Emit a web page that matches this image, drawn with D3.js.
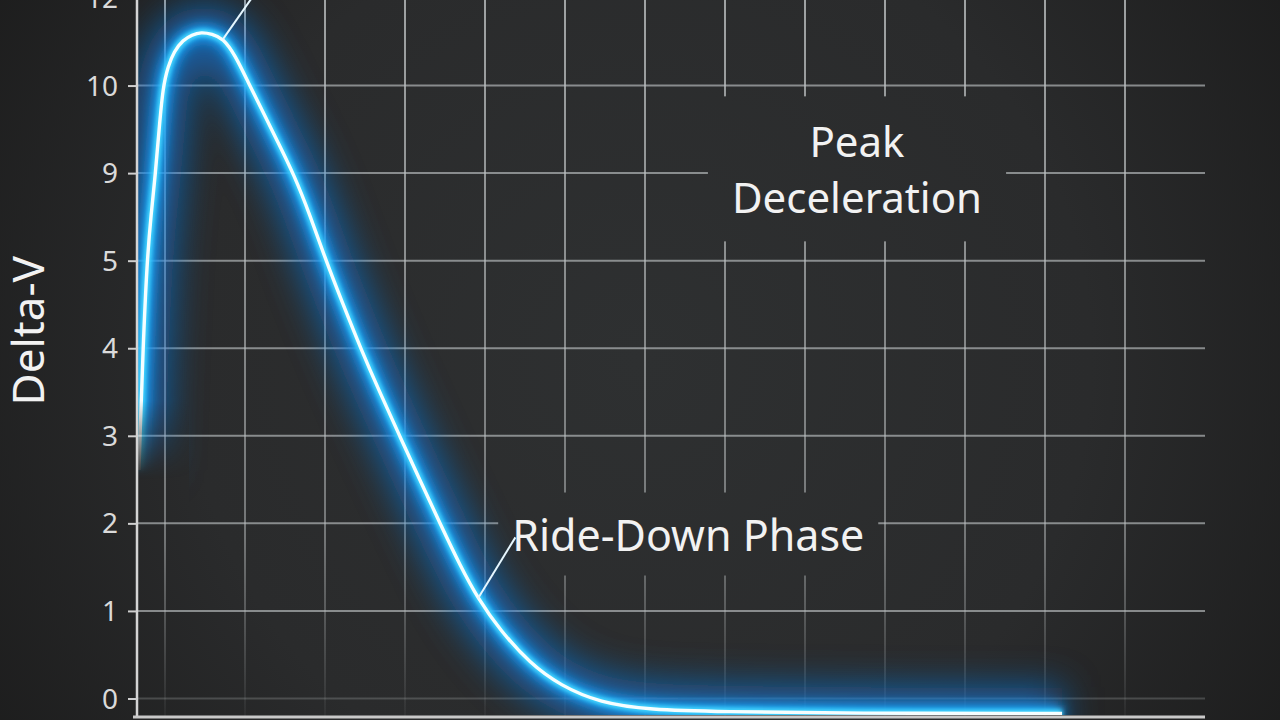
<!DOCTYPE html>
<html>
<head>
<meta charset="utf-8">
<script src="https://cdn.jsdelivr.net/npm/d3@7"></script>
<style>
	body { margin: 0; background: #1d1e1f; }
	svg { display: block; }
	text { font-family: "Noto Sans", Roboto, sans-serif; }
</style>
</head>
<body>
<div id="chart"><svg></svg></div>
<script>
// y ticks are evenly spaced on the picture, so values are kept in tick-slot units
var yTickLabels = ["0", "1", "2", "3", "4", "5", "9", "10", "12"];
var xGridTicks = [0, 1, 2, 3, 4, 5, 6, 7, 8, 9, 10, 11, 12];

var curveX = [-0.325, -0.3125, -0.275, -0.225, -0.175, -0.119, -0.075, -0.025, 0.038, 0.113, 0.225, 0.338, 0.45, 0.588, 0.725, 0.875, 1.038, 1.213, 1.413, 1.613, 1.813, 2.0, 2.213, 2.45, 2.688, 2.938, 3.188, 3.438, 3.688, 3.913, 4.188, 4.563, 4.938, 5.438, 6.063, 6.938, 8.563, 11.213];
var curveY = [2.61, 2.99, 3.99, 4.99, 5.52, 6.0, 6.49, 6.99, 7.22, 7.39, 7.52, 7.58, 7.61, 7.59, 7.54, 7.35, 7.04, 6.72, 6.35, 5.98, 5.52, 5.03, 4.53, 3.99, 3.49, 2.99, 2.49, 2.0, 1.52, 1.14, 0.78, 0.4, 0.15, -0.05, -0.13, -0.15, -0.17, -0.17];

var annoLabels = ["Peak Deceleration", "Ride-Down Phase"];

var width = 1280, height = 720;
var p_left = 137, p_right = 1205, p_top = -2, p_bottom = 716;

var svg = d3.select("#chart").select("svg")
	.attr("width", width)
	.attr("height", height);

var x = d3.scaleLinear()
	.domain([-0.35, 13])
	.range([p_left, p_right]);
var y = d3.scaleLinear()
	.domain([-0.2, 8])
	.range([p_bottom, p_top]);

var defs = svg.append("defs");

var bg = defs.append("radialGradient")
	.attr("id", "bg")
	.attr("gradientUnits", "userSpaceOnUse")
	.attr("cx", 640).attr("cy", 360).attr("r", 820);
bg.append("stop").attr("offset", "0%").attr("stop-color", "#2e3031");
bg.append("stop").attr("offset", "55%").attr("stop-color", "#2a2b2c");
bg.append("stop").attr("offset", "100%").attr("stop-color", "#1a1a1a");

var vfade = defs.append("linearGradient")
	.attr("id", "vfade")
	.attr("gradientUnits", "userSpaceOnUse")
	.attr("x1", 0).attr("y1", 0).attr("x2", 0).attr("y2", p_bottom);
vfade.append("stop").attr("offset", "0%").attr("stop-color", "#bcc0c1").attr("stop-opacity", 0.8);
vfade.append("stop").attr("offset", "75%").attr("stop-color", "#bcc0c1").attr("stop-opacity", 0.5);
vfade.append("stop").attr("offset", "100%").attr("stop-color", "#bcc0c1").attr("stop-opacity", 0.05);

// fade of the curve where it rises from the axis
var startFade = defs.append("linearGradient")
	.attr("id", "startFade")
	.attr("gradientUnits", "userSpaceOnUse")
	.attr("x1", 0).attr("y1", y(3.4)).attr("x2", 0).attr("y2", y(2.5));
startFade.append("stop").attr("offset", "0%").attr("stop-color", "#fff");
startFade.append("stop").attr("offset", "100%").attr("stop-color", "#000");
var mask = defs.append("mask")
	.attr("id", "curveMask")
	.attr("maskUnits", "userSpaceOnUse")
	.attr("x", 0).attr("y", 0).attr("width", width).attr("height", height);
mask.append("rect")
	.attr("width", width).attr("height", height)
	.style("fill", "#fff");
mask.append("rect")
	.attr("x", 0).attr("y", y(3.4))
	.attr("width", x(0.3)).attr("height", height - y(3.4))
	.style("fill", "url(#startFade)");

function blur(id, sd)
{
	defs.append("filter")
		.attr("id", id)
		.attr("x", "-50%").attr("y", "-50%")
		.attr("width", "200%").attr("height", "200%")
		.append("feGaussianBlur")
		.attr("stdDeviation", sd);
}
blur("glowBig", 18);
blur("glowMid", 6);
blur("glowSmall", 2);

defs.append("clipPath")
	.attr("id", "plotClip")
	.append("rect")
	.attr("x", p_left + 1)
	.attr("y", 0)
	.attr("width", width - p_left)
	.attr("height", p_bottom - 1);

svg.append("rect")
	.attr("width", width)
	.attr("height", height)
	.style("fill", "url(#bg)");

// grid
svg.append("g")
	.selectAll("line")
	.data(xGridTicks)
	.enter()
	.append("line")
	.attr("x1", function(d) { return x(d); })
	.attr("x2", function(d) { return x(d); })
	.attr("y1", 0)
	.attr("y2", p_bottom)
	.style("stroke", "url(#vfade)")
	.style("stroke-width", 2);

svg.append("g")
	.selectAll("line")
	.data(yTickLabels)
	.enter()
	.append("line")
	.attr("x1", p_left)
	.attr("x2", p_right)
	.attr("y1", function(d, i) { return y(i); })
	.attr("y2", function(d, i) { return y(i); })
	.style("stroke", "#bcc0c1")
	.style("stroke-opacity", function(d, i) { return i == 0 ? 0.25 : 0.65; })
	.style("stroke-width", 2);

// curve
var pts = curveX.map(function(d, i) { return [d, curveY[i]]; });
var line = d3.line()
	.x(function(d) { return x(d[0]); })
	.y(function(d) { return y(d[1]); })
	.curve(d3.curveBasis);

var clipG = svg.append("g")
	.attr("class", "curve")
	.attr("clip-path", "url(#plotClip)");
var glow = clipG.append("g")
	.attr("mask", "url(#curveMask)");
glow.append("path")
	.attr("d", line(pts))
	.style("fill", "none")
	.style("stroke", "#0b7be0")
	.style("stroke-width", 52)
	.style("stroke-opacity", 0.68)
	.attr("filter", "url(#glowBig)");
glow.append("path")
	.attr("d", line(pts))
	.style("fill", "none")
	.style("stroke", "#1aa6ff")
	.style("stroke-width", 16)
	.style("stroke-opacity", 0.9)
	.attr("filter", "url(#glowMid)");
glow.append("path")
	.attr("d", line(pts))
	.style("fill", "none")
	.style("stroke", "#45d8ff")
	.style("stroke-width", 8)
	.attr("filter", "url(#glowSmall)");
glow.append("path")
	.attr("d", line(pts))
	.style("fill", "none")
	.style("stroke", "#f6feff")
	.style("stroke-width", 3.4);

// annotations
var annos = svg.append("g").attr("class", "annos");

function textBox(t, px, py)
{
	var b = t.node().getBBox();
	svg.insert("rect", ".curve")
		.attr("x", b.x - px)
		.attr("y", b.y - py)
		.attr("width", b.width + 2 * px)
		.attr("height", b.height + 2 * py)
		.style("fill", "url(#bg)");
}

var peak = annos.append("text")
	.attr("x", x(8.65))
	.attr("y", y(6.18))
	.style("text-anchor", "middle")
	.style("font-size", "42px")
	.style("fill", "#f2f2f2");
peak.append("tspan").attr("x", x(8.65)).text(annoLabels[0].split(" ")[0]);
peak.append("tspan").attr("x", x(8.65)).attr("dy", 56).text(annoLabels[0].split(" ")[1]);
textBox(peak, 24, 16);

var ride = annos.append("text")
	.attr("x", x(4.34))
	.attr("y", y(1.69))
	.style("font-size", "43px")
	.style("fill", "#f2f2f2")
	.text(annoLabels[1]);
textBox(ride, 14, 12);

annos.append("line")
	.attr("x1", x(3.91)).attr("y1", y(1.14))
	.attr("x2", x(4.38)).attr("y2", y(1.84))
	.style("stroke", "#e6f7ff")
	.style("stroke-width", 2);
annos.append("line")
	.attr("x1", x(0.725)).attr("y1", y(7.53))
	.attr("x2", x(1.1)).attr("y2", y(8.02))
	.style("stroke", "#e6f7ff")
	.style("stroke-width", 2);

// axes
svg.append("line")
	.attr("x1", p_left).attr("x2", p_left)
	.attr("y1", 0).attr("y2", p_bottom)
	.style("stroke", "#d4d4d4")
	.style("stroke-width", 2.5);
svg.append("line")
	.attr("x1", p_left - 4).attr("x2", p_right)
	.attr("y1", p_bottom + 1).attr("y2", p_bottom + 1)
	.style("stroke", "#c9c9c9")
	.style("stroke-width", 3);

var yAxis = d3.axisLeft(y)
	.tickValues(d3.range(yTickLabels.length))
	.tickFormat(function(d) { return yTickLabels[d]; })
	.tickSize(9)
	.tickPadding(10);

var ya = svg.append("g")
	.attr("transform", "translate(" + p_left + ",0)")
	.call(yAxis);
ya.select(".domain").remove();
ya.selectAll("line").style("stroke", "#cfcfcf").style("stroke-width", 2);
ya.selectAll("text")
	.style("font-family", "'Noto Sans', Roboto, sans-serif")
	.style("font-size", "28px")
	.style("fill", "#dadada")
	.attr("dy", "0.34em");

svg.append("text")
	.attr("transform", "translate(44," + y(4.2) + ") rotate(-90)")
	.style("text-anchor", "middle")
	.style("font-size", "44px")
	.style("fill", "#f2f2f2")
	.text("Delta-V");
</script>
</body>
</html>
